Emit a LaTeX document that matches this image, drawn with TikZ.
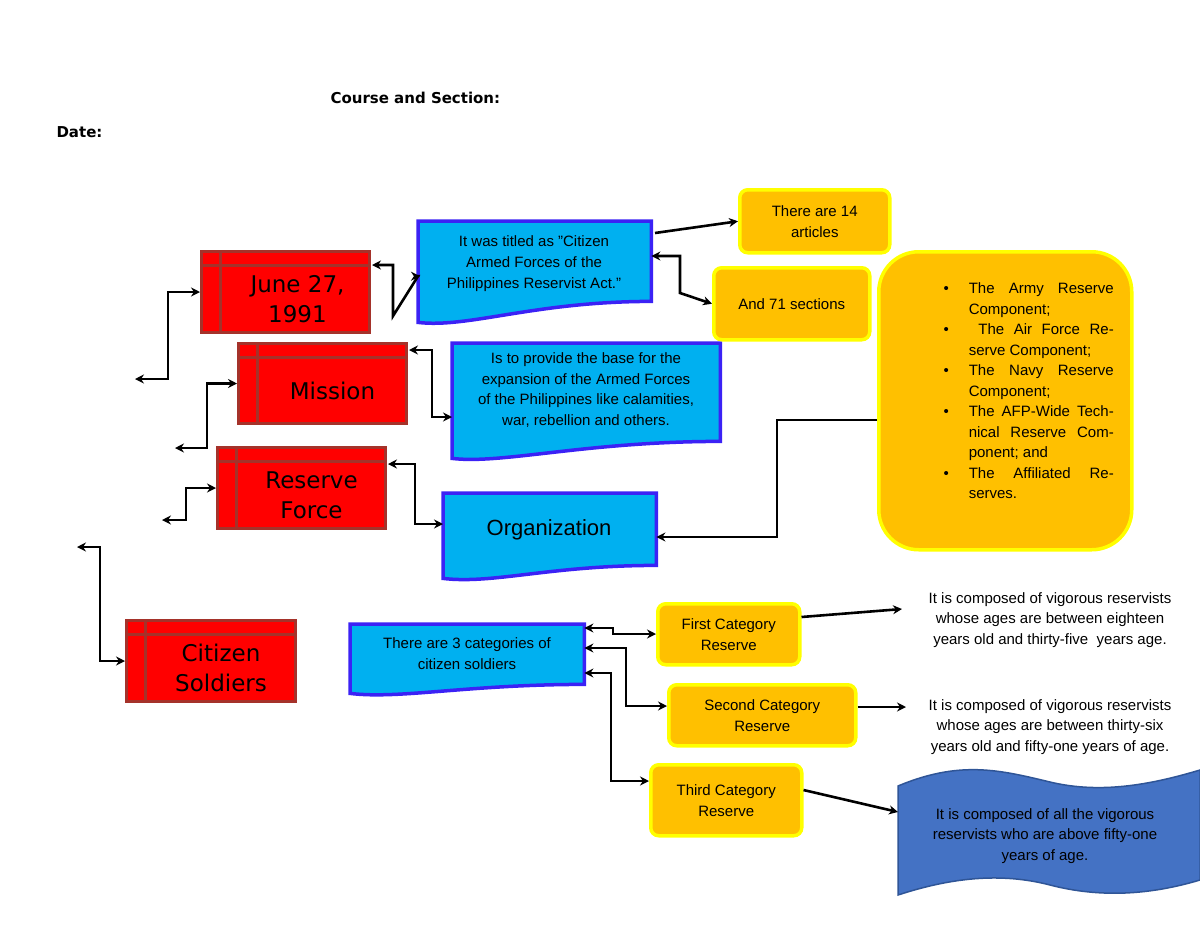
\documentclass[tikz,border=0pt]{standalone}
\usepackage{fontspec}
\setmainfont{Liberation Sans}
\newfontfamily\dv{DejaVu Sans}
\usetikzlibrary{calc,arrows.meta}
\definecolor{redf}{HTML}{FF0000}
\definecolor{redb}{HTML}{A5322A}
\definecolor{cy}{HTML}{00B0F0}
\definecolor{bb}{HTML}{3B22F5}
\definecolor{yf}{HTML}{FFC000}
\definecolor{yb}{HTML}{FFFF00}
\definecolor{ban}{HTML}{4472C4}
\definecolor{band}{HTML}{2F5597}
\tikzset{
 x=1pt,y=-1pt,
 redbox/.style={draw=redb,line width=3pt,fill=redf,anchor=north west,inner sep=0pt,align=center,font=\dv\fontsize{23}{30}\selectfont,text=black},
 docn/.style={anchor=north west,inner sep=0pt,align=center,font=\fontsize{15}{21}\selectfont},
 docp/.style={draw=bb,line width=3.5pt,fill=cy},
 ybox/.style={draw=yb,line width=3.5pt,fill=yf,rounded corners=8pt,anchor=north west,inner sep=0pt,align=center,font=\fontsize{15}{21}\selectfont},
 plain/.style={align=center,font=\fontsize{15}{20.5}\selectfont},
 arr/.style={line width=2.6pt,-{Stealth[length=9pt,width=9pt]}},
 darr/.style={line width=2.6pt,{Stealth[length=9pt,width=9pt]}-{Stealth[length=9pt,width=9pt]}},
}
\newcommand\redb[5]{% name x y w h text in #5? 
 \node[redbox,minimum width=#4,minimum height=#5] (#1) at (#2,#3) {};}
\newcommand\redlines[1]{\draw[redb,line width=3pt] ($(#1.north west)+(0,15)$) -- ($(#1.north east)+(0,15)$);
 \draw[redb,line width=3pt] ($(#1.north west)+(20,0)$) -- ($(#1.south west)+(20,0)$);}
\newcommand\docpath[2]{\fill[docp] (#1.north west) -- (#1.north east) -- (#1.south east) .. controls ($(#1.south)+(0,0)$) and ($(#1.south west)+(50,#2+6)$) .. ($(#1.south west)+(0,#2)$) -- cycle;}
\begin{document}
\begin{tikzpicture}
\useasboundingbox (0,0) rectangle (1200,927);
\node[font=\dv\bfseries\fontsize{15}{18}\selectfont,anchor=west] (cs) at (327,98) {Course and Section:};
\node[font=\dv\bfseries\fontsize{15}{18}\selectfont,anchor=west] (dt) at (53,132) {Date:};
% red boxes
\redb{june}{200}{250}{168}{81}
\redb{mis}{237}{342}{168}{80}
\redb{res}{216}{446}{168}{81}
\redb{cit}{125}{619}{169}{81}
\foreach \n in {june,mis,res,cit}{\redlines{\n}}
\node[font=\dv\fontsize{23}{30}\selectfont,align=center] at ($(june.center)+(12,7)$) {June 27,\\1991};
\node[font=\dv\fontsize{23}{30}\selectfont,align=center] at ($(mis.center)+(10,7)$) {Mission};
\node[font=\dv\fontsize{23}{30}\selectfont,align=center] at ($(res.center)+(10,7)$) {Reserve\\Force};
\node[font=\dv\fontsize{23}{30}\selectfont,align=center] at ($(cit.center)+(10,7)$) {Citizen\\Soldiers};
% documents
\node[docn,minimum width=233,minimum height=80] (d1) at (418,221) {};
\docpath{d1}{21}
\node[font=\fontsize{15}{21}\selectfont,align=center] at (534,264) {It was titled as "Citizen\\Armed Forces of the\\Philippines Reservist Act."};
\node[docn,minimum width=268,minimum height=98] (d2) at (452,343) {};
\docpath{d2}{17}
\node[font=\fontsize{15}{20.5}\selectfont,align=center] at (586,390) {Is to provide the base for the\\expansion of the Armed Forces\\of the Philippines like calamities,\\war, rebellion and others.};
\node[docn,minimum width=213,minimum height=72] (org) at (443,493) {};
\docpath{org}{13}
\node[font=\fontsize{22}{26}\selectfont] at (549,530) {Organization};
\node[docn,minimum width=234,minimum height=60] (cat) at (350,624) {};
\docpath{cat}{9}
\node[font=\fontsize{15}{21}\selectfont,align=center] at (467,654) {There are 3 categories of\\citizen soldiers};
% yellow boxes
\node[ybox,minimum width=150,minimum height=63] (art) at (738,188) {There are 14\\articles};
\node[ybox,minimum width=156,minimum height=72] (sec) at (712,266) {And 71 sections};
\node[ybox,rounded corners=40pt,minimum width=253,minimum height=298] (big) at (877,250) {};
\node[font=\fontsize{15}{20.5}\selectfont,anchor=north west] at (940,276) {\begin{tabular}{@{}l@{\hspace{20pt}}p{145pt}@{}}
\textbullet & The Army Reserve Component;\\
\textbullet & \ The Air Force Reserve Component;\\
\textbullet & The Navy Reserve Component;\\
\textbullet & The AFP-Wide Technical Reserve Component; and\\
\textbullet & The Affiliated Reserves.
\end{tabular}};
\node[ybox,minimum width=142,minimum height=61] (c1) at (656,602) {First Category\\Reserve};
\node[ybox,minimum width=187,minimum height=61] (c2) at (667,683) {Second Category\\Reserve};
\node[ybox,minimum width=151,minimum height=71] (c3) at (649,763) {Third Category\\Reserve};
% right texts
\node[plain] (t1) at (1050,620) {It is composed of vigorous reservists\\whose ages are between eighteen\\years old and thirty-five\ \ years age.};
\node[plain] (t2) at (1050,727) {It is composed of vigorous reservists\\whose ages are between thirty-six\\years old and fifty-one years of age.};
\fill[ban,draw=band,line width=1.5pt] (898,786) .. controls (960,760) and (1000,770) .. (1050,782) .. controls (1100,794) and (1150,785) .. (1200,770) -- (1200,880) .. controls (1150,895) and (1100,898) .. (1050,885) .. controls (1000,872) and (950,878) .. (898,895) -- cycle;
\node[plain] (t3) at (1045,836) {It is composed of all the vigorous\\reservists who are above fifty-one\\years of age.};
% free ends
\coordinate (f1) at (135,379);
\coordinate (f2) at (175,448);
\coordinate (f3) at (162,520);
\coordinate (f4) at (77,547);
\draw[darr] (f1) -- (168,379) |- (june.west);
\draw[darr] (f2) -- (207,448) |- (mis.west);
\draw[darr] (f3) -- (186,520) |- (res.west);
\draw[darr] (f4) -- (100,547) |- (cit.west);
\draw[darr] ($(june.north east)+(1,15)$) -| (393,316) -- ($(d1.west)+(0,55-40)$) -- ++(2,0);
\draw[darr] ($(mis.north east)+(1,8)$) -| (432,417) -- (452,417);
\draw[darr] ($(res.north east)+(1,18)$) -| (415,524) -- (org.west |- 0,524);
\draw[darr] (d1.east |- 0,256) -| (680,293) -- (sec.west);
\draw[arr] (655,233) -- (art.west);
\draw[arr] (big.west |- 0,420) -| (777,537) -- (org.east |- 0,537);
\draw[darr] (cat.east |- 0,628) -| (613,634) -- (c1.west |- 0,634);
\draw[darr] (cat.east |- 0,648) -| (626,706) -- (c2.west |- 0,706);
\draw[darr] (cat.east |- 0,673) -| (611,781) -- (c3.west |- 0,781);
\draw[arr] (c1.east |- 0,617) -- (902,609);
\draw[arr] (c2.east |- 0,707) -- (906,707);
\draw[arr] (c3.east |- 0,790) -- (898,812);
\end{tikzpicture}
\end{document}
